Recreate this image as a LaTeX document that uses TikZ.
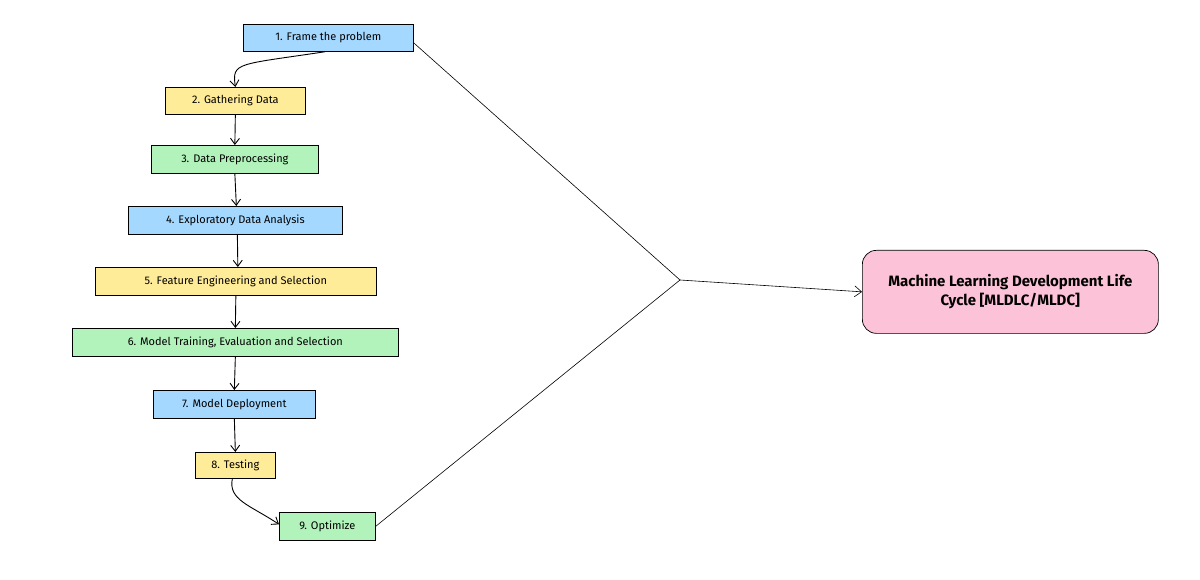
\documentclass[tikz,border=0pt]{standalone}
\usepackage{fontspec}
\setmainfont{Fira Sans}
\usetikzlibrary{arrows.meta}
\definecolor{cb}{HTML}{A5D8FF}
\definecolor{cy}{HTML}{FFEC99}
\definecolor{cg}{HTML}{B2F2BB}
\definecolor{cp}{HTML}{FCC2D7}
\tikzset{
  box/.style={draw=black, line width=0.7pt, font=\fontsize{11}{13}\selectfont, inner sep=0pt, anchor=north west},
  conn/.style={draw=black, line width=0.9pt, -{Straight Barb[length=6pt,width=9pt]}},
  thin/.style={draw=black, line width=0.6pt}
}
\begin{document}
\begin{tikzpicture}[x=1pt,y=-1pt]
\useasboundingbox (0,0) rectangle (1200,580);
\fill[white] (0,0) rectangle (1200,580);
\node[box, fill=cb, minimum width=170pt, minimum height=27pt] (n1) at (243,24) {1. Frame the problem};
\node[box, fill=cy, minimum width=140pt, minimum height=27pt] (n2) at (165,87) {2. Gathering Data};
\node[box, fill=cg, minimum width=167pt, minimum height=28pt] (n3) at (151,145) {3. Data Preprocessing};
\node[box, fill=cb, minimum width=214pt, minimum height=28pt] (n4) at (128,206) {4. Exploratory Data Analysis};
\node[box, fill=cy, minimum width=281pt, minimum height=28pt] (n5) at (95,267) {5. Feature Engineering and Selection};
\node[box, fill=cg, minimum width=326pt, minimum height=28pt] (n6) at (72,328) {6. Model Training, Evaluation and Selection};
\node[box, fill=cb, minimum width=162pt, minimum height=28pt] (n7) at (153,390) {7. Model Deployment};
\node[box, fill=cy, minimum width=80pt, minimum height=26pt] (n8) at (195,452) {8. Testing};
\node[box, fill=cg, minimum width=96pt, minimum height=28pt] (n9) at (279,512) {9. Optimize};
\node[draw=black, line width=0.7pt, fill=cp, rounded corners=14pt, minimum width=296pt, minimum height=83pt, anchor=north west, align=center, font=\fontsize{15}{19}\selectfont\bfseries] (big) at (862,250) {Machine Learning Development Life\\Cycle [MLDLC/MLDC]};
\coordinate (j) at (680,280);
\draw[conn] ([xshift=-3pt]n1.south) .. controls (237,65) and (232,62) .. ([xshift=-0pt]n2.north);
\draw[conn] (n2.south) -- (n3.north);
\draw[conn] (n3.south) -- ([xshift=1pt]n4.north);
\draw[conn] ([xshift=2pt]n4.north) ++(0,28) -- ([xshift=2pt]n5.north);
\draw[conn] (n5.south) -- (n6.north);
\draw[conn] (n6.south) -- (n7.north);
\draw[conn] (n7.south) -- (n8.north);
\draw[conn] ([xshift=-3pt]n8.south) .. controls (228,500) and (250,505) .. ([yshift=2pt]n9.west);
\draw[thin] ([yshift=-5pt]n1.east) -- (j);
\draw[thin] (n9.east) -- (j);
\draw[thin, -{Straight Barb[length=7pt,width=11pt]}] (j) -- (big.west);
\end{tikzpicture}
\end{document}
